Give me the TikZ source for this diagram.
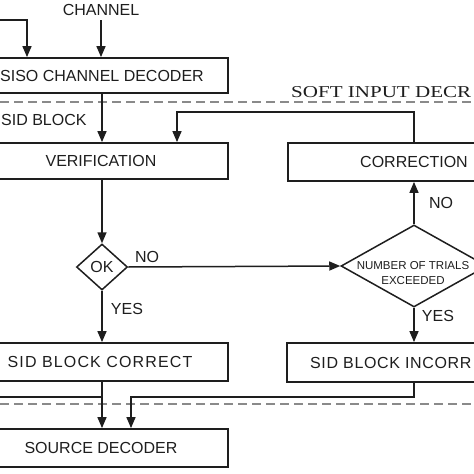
\documentclass[tikz,border=0pt]{standalone}
\usepackage{graphicx}
\usepackage{fontspec}
\setmainfont{Liberation Sans}
\newfontfamily\softfont{Liberation Serif}
\newfontfamily\sidfont[LetterSpace=7]{Liberation Sans}
\newfontfamily\sidfontb[LetterSpace=4]{Liberation Sans}
\usetikzlibrary{arrows.meta,shapes.geometric}
\definecolor{ink}{HTML}{1E1E1E}
\definecolor{dashgrey}{HTML}{8A8A8A}
\begin{document}
\begin{tikzpicture}[x=1pt,y=-1pt,
  box/.style={draw=ink, line width=1.8pt, inner sep=0pt, text=ink,
    font=\fontsize{16}{19}\selectfont},
  lbl/.style={inner sep=0pt, text=ink, font=\fontsize{16}{19}\selectfont},
  arr/.style={draw=ink, line width=1.5pt, -{Triangle[length=11pt,width=9pt]}},
  ln/.style={draw=ink, line width=1.5pt},
  sep/.style={draw=dashgrey, line width=1.8pt, dash pattern=on 9pt off 5pt},
  dia/.style={draw=ink, line width=1.5pt, diamond, inner sep=0pt, text=ink,
    font=\fontsize{16}{19}\selectfont}]
\useasboundingbox (0,0) rectangle (474,474);
\fill[white] (0,0) rectangle (474,474);
\clip (0,0) rectangle (474,474);

% columns
\coordinate (L) at (102,0);
\coordinate (LB) at (131,397);
\coordinate (in0) at (0,20);
\coordinate (a1) at (27,20);
\coordinate (in1) at (0,397);
\coordinate (fb) at (177,112);

% separators
\draw[sep] (0,102) -- (474,102);
\draw[sep] (0,404) -- (474,404);

% texts
\node[lbl] (ch) at (101,10) {CHANNEL};
\node[lbl, anchor=west] (sidlbl) at (1,120) {SID BLOCK};
\node[inner sep=0pt, text=ink, anchor=west, font=\softfont\fontsize{17}{20}\selectfont] (soft) at (291,92) {\resizebox{180pt}{11pt}{SOFT INPUT DECR}};

% boxes
\node[box, minimum width=252pt, minimum height=35pt] (siso) at (102,75.5) {SISO CHANNEL DECODER};
\node[box, minimum width=254pt, minimum height=36pt] (verif) at (101,161) {VERIFICATION};
\node[box, minimum width=252pt, minimum height=38pt] (corr) at (414,162) {CORRECTION};
\node[box, minimum width=256pt, minimum height=38pt] (correct) at (100,362) {\sidfont SID BLOCK CORRECT};
\node[box, minimum width=254pt, minimum height=39pt] (incorr) at (414,362.5) {};
\node[lbl, anchor=west] (incorrtxt) at (310,362.5) {\sidfontb SID BLOCK INCORR};
\node[box, minimum width=254pt, minimum height=38pt] (src) at (101,448) {SOURCE DECODER};

% decisions
\node[dia, minimum width=51pt, minimum height=46pt] (ok) at (102,267) {OK};
\node[dia, minimum width=146pt, minimum height=82pt] (num) at (414,266) {};
\node[inner sep=0pt, text=ink, align=center, font=\fontsize{11.5}{14.5}\selectfont] (numtxt) at (413,273) {NUMBER OF TRIALS\\EXCEEDED};

% connectors
\draw[arr] (in0) -| (siso.north -| a1);
\draw[arr] (ch.south |- 0,20) -- (ch.south |- siso.north);
\draw[arr] (siso.south -| L) -- (verif.north -| L);
\draw[arr] (corr.north) |- (fb) -- (fb |- verif.north);
\draw[arr] (verif.south -| L) -- (ok.north);
\draw[arr] (ok.east) -- (num.west);
\draw[arr] (num.north) -- (corr.south);
\draw[arr] (num.south) -- (incorr.north);
\draw[arr] (ok.south) -- (ok.south |- correct.north);
\draw[arr] (correct.south -| L) -- (src.north -| L);
\draw[ln] (in1) -- (in1 -| L);
\draw[arr] (incorr.south) |- (LB) -- (LB |- src.north);

% branch labels
\node[lbl] (no1) at (147,257) {NO};
\node[lbl] (yes1) at (127,309) {YES};
\node[lbl] (no2) at (441,203) {NO};
\node[lbl] (yes2) at (438,316) {YES};
\end{tikzpicture}
\end{document}
